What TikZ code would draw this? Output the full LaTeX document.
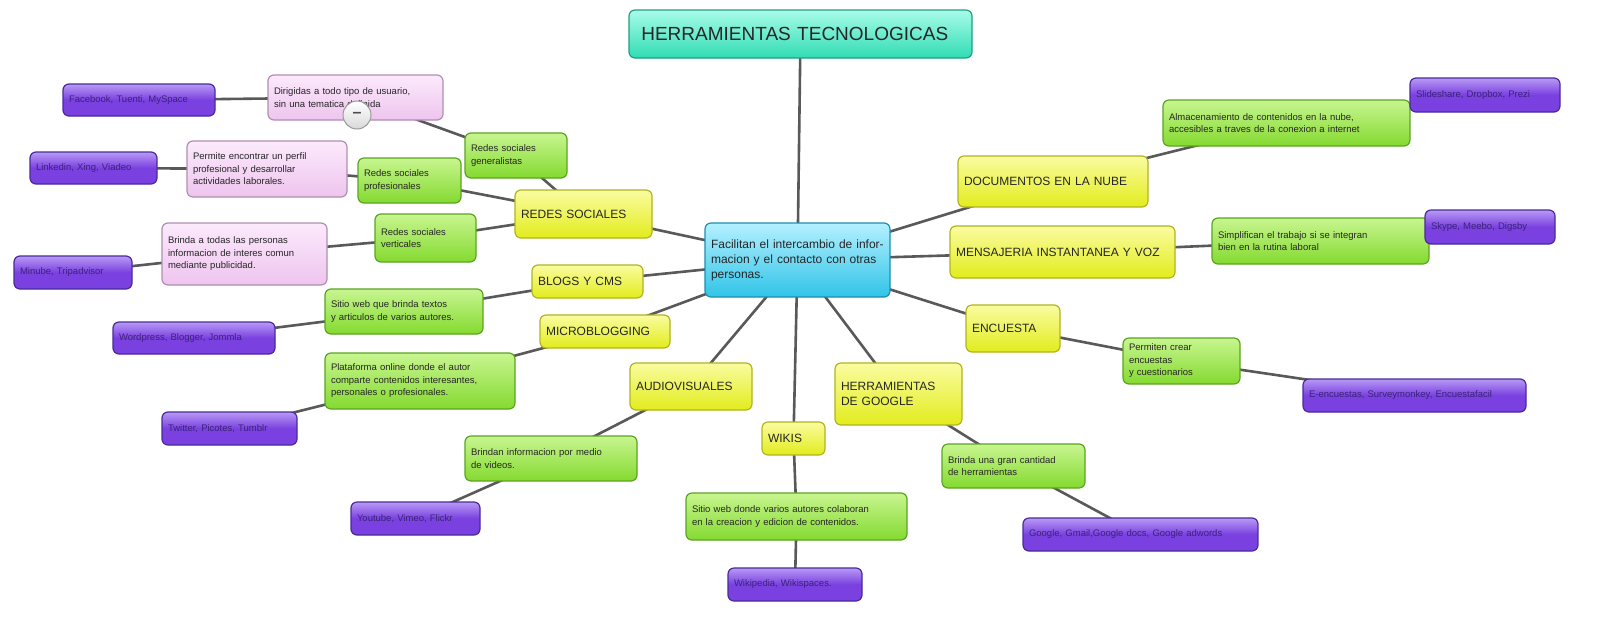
\documentclass[tikz,border=0pt]{standalone}
\usepackage{fontspec}
\setmainfont{Liberation Sans}
\usetikzlibrary{backgrounds}
\definecolor{pB}{HTML}{7A40E0}\definecolor{pT}{HTML}{B89AF5}\definecolor{pD}{HTML}{4A2A9A}
\definecolor{gB}{HTML}{84DA30}\definecolor{gT}{HTML}{C8F590}\definecolor{gD}{HTML}{5AA520}
\definecolor{yB}{HTML}{E2EC1C}\definecolor{yT}{HTML}{FAFCA0}\definecolor{yD}{HTML}{B0B420}
\definecolor{kB}{HTML}{EEC4EE}\definecolor{kT}{HTML}{FCEAFC}\definecolor{kD}{HTML}{B090B0}
\definecolor{cB}{HTML}{30C4E8}\definecolor{cT}{HTML}{B4F0FF}\definecolor{cD}{HTML}{1A90B0}
\definecolor{tB}{HTML}{30DCB4}\definecolor{tT}{HTML}{A8FCE8}\definecolor{tD}{HTML}{20A080}
\tikzset{
 base/.style={rounded corners=6pt, line width=1.2pt, inner sep=0pt, align=left},
 purp/.style={base, draw=pD, top color=pT, bottom color=pB, middle color=pB, text=pD!80!black, font=\fontsize{9.5}{12}\selectfont},
 grn/.style={base, draw=gD, top color=gT, bottom color=gB, text=black!85, font=\fontsize{9.5}{12.5}\selectfont},
 yel/.style={base, draw=yD, top color=yT, bottom color=yB, text=black!85, font=\fontsize{12}{15}\selectfont},
 pnk/.style={base, draw=kD, top color=kT, bottom color=kB, text=black!85, font=\fontsize{9.5}{12.5}\selectfont},
 cen/.style={base, draw=cD, top color=cT, bottom color=cB, text=black!85, font=\fontsize{12}{15}\selectfont},
 ttl/.style={base, draw=tD, top color=tT, bottom color=tB, text=black!85, font=\fontsize{19}{22}\selectfont},
 link/.style={draw=black!65, line width=2.6pt}
}
\newcommand\bx[7]{\node[#2, minimum width={(#5-#3)*1pt}, minimum height={(#6-#4)*1pt}, text width={(#5-#3-12)*1pt}] (#1) at ({(#3+#5)/2},{(#4+#6)/2}) {\hyphenpenalty=10000 #7};}
\begin{document}
\begin{tikzpicture}[x=1pt,y=-1pt]
\useasboundingbox (0,0) rectangle (1600,622);
\bx{ttl}{ttl}{629}{10}{972}{58}{\ HERRAMIENTAS TECNOLOGICAS}
\bx{cen}{cen}{705}{223}{890}{297}{Facilitan el intercambio de informacion y el contacto con otras personas.}
\bx{rs}{yel}{515}{190}{652}{238}{REDES SOCIALES}
\bx{bl}{yel}{532}{265}{643}{298}{BLOGS Y CMS}
\bx{mi}{yel}{540}{315}{670}{348}{MICROBLOGGING}
\bx{au}{yel}{630}{363}{752}{410}{AUDIOVISUALES}
\bx{wk}{yel}{762}{422}{825}{455}{WIKIS}
\bx{hg}{yel}{835}{363}{962}{425}{HERRAMIENTAS\\DE GOOGLE}
\bx{en}{yel}{966}{305}{1060}{352}{ENCUESTA}
\bx{ms}{yel}{950}{226}{1175}{278}{MENSAJERIA INSTANTANEA Y VOZ}
\bx{dn}{yel}{958}{156}{1148}{207}{DOCUMENTOS EN LA NUBE}
\bx{g1}{grn}{465}{133}{567}{178}{Redes sociales\\generalistas}
\bx{g2}{grn}{358}{158}{461}{203}{Redes sociales\\profesionales}
\bx{g3}{grn}{375}{214}{476}{262}{Redes sociales\\verticales}
\bx{g4}{grn}{325}{289}{483}{334}{Sitio web que brinda textos\\y articulos de varios autores.}
\bx{g5}{grn}{325}{353}{515}{409}{Plataforma online donde el autor\\comparte contenidos interesantes,\\personales o profesionales.}
\bx{g6}{grn}{465}{436}{637}{481}{Brindan informacion por medio\\de videos.}
\bx{g7}{grn}{686}{493}{907}{540}{Sitio web donde varios autores colaboran\\en la creacion y edicion de contenidos.}
\bx{g8}{grn}{942}{444}{1085}{488}{Brinda una gran cantidad\\de herramientas}
\bx{g9}{grn}{1123}{338}{1240}{384}{Permiten crear encuestas\\y cuestionarios}
\bx{g10}{grn}{1212}{218}{1429}{264}{Simplifican el trabajo si se integran\\bien en la rutina laboral}
\bx{g11}{grn}{1163}{100}{1410}{146}{Almacenamiento de contenidos en la nube,\\accesibles a traves de la conexion a internet}
\bx{k1}{pnk}{268}{75}{443}{120}{Dirigidas a todo tipo de usuario,\\sin una tematica definida}
\bx{k2}{pnk}{187}{141}{347}{197}{Permite encontrar un perfil\\profesional y desarrollar\\actividades laborales.}
\bx{k3}{pnk}{162}{223}{327}{285}{Brinda a todas las personas\\informacion de interes comun\\mediante publicidad.}
\bx{p1}{purp}{63}{84}{215}{116}{Facebook, Tuenti, MySpace}
\bx{p2}{purp}{30}{152}{157}{184}{Linkedin, Xing, Viadeo}
\bx{p3}{purp}{14}{256}{132}{289}{Minube, Tripadvisor}
\bx{p4}{purp}{113}{322}{275}{354}{Wordpress, Blogger, Jommla}
\bx{p5}{purp}{162}{412}{297}{445}{Twitter, Picotes, Tumblr}
\bx{p6}{purp}{351}{502}{480}{535}{Youtube, Vimeo, Flickr}
\bx{p7}{purp}{728}{568}{862}{601}{Wikipedia, Wikispaces.}
\bx{p8}{purp}{1023}{518}{1258}{551}{Google, Gmail,Google docs, Google adwords}
\bx{p9}{purp}{1303}{379}{1526}{412}{E-encuestas, Surveymonkey, Encuestafacil}
\bx{p10}{purp}{1425}{210}{1555}{244}{Skype, Meebo, Digsby}
\bx{p11}{purp}{1410}{78}{1560}{112}{Slideshare, Dropbox, Prezi}
\node[circle, draw=black!40, line width=1pt, top color=white, bottom color=black!15, minimum size=28pt, inner sep=0pt, font=\bfseries\fontsize{16}{16}\selectfont, text=black!70] (minus) at (357,115) {–};
\begin{scope}[on background layer]
\fill[white] (0,0) rectangle (1600,622);
\foreach \a/\b in {ttl/cen,cen/rs,cen/bl,cen/mi,cen/au,cen/wk,cen/hg,cen/en,cen/ms,cen/dn,
 rs/g1,rs/g2,rs/g3,bl/g4,mi/g5,au/g6,wk/g7,hg/g8,en/g9,ms/g10,dn/g11,
 g1/k1,g2/k2,g3/k3,k1/p1,k2/p2,k3/p3,g4/p4,g5/p5,g6/p6,g7/p7,g8/p8,g9/p9,g10/p10,g11/p11}
 \draw[link] (\a.center) -- (\b.center);
\end{scope}
\end{tikzpicture}
\end{document}
